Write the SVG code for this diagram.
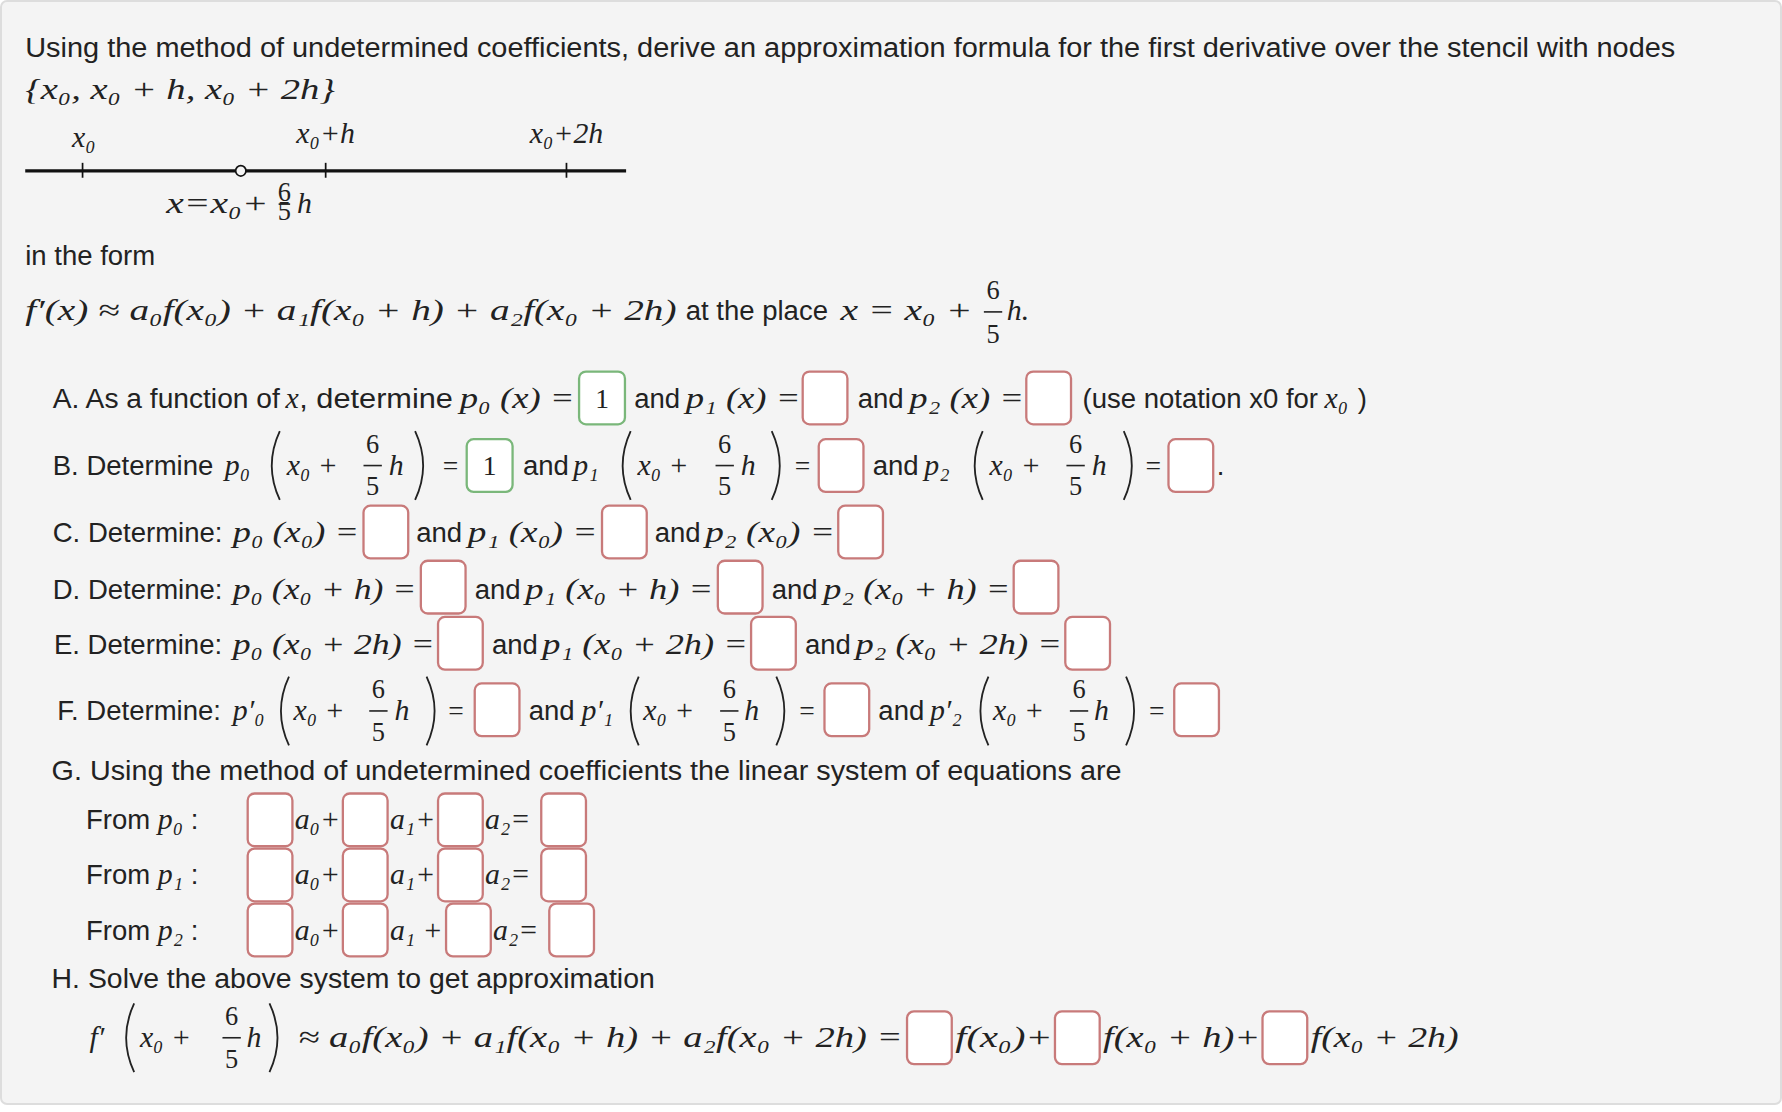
<svg xmlns="http://www.w3.org/2000/svg" width="1782" height="1112" viewBox="0 0 1782 1112">
<style>
.s{font-family:"Liberation Sans",Arial,sans-serif;font-size:24px;fill:#222}
.m{font-family:"Liberation Serif","Times New Roman",serif;font-style:italic;font-size:26px;fill:#222}
.n{font-family:"Liberation Serif","Times New Roman",serif;font-size:24px;fill:#222}
.fr{font-family:"Liberation Serif","Times New Roman",serif;font-size:23px;fill:#222;text-anchor:middle}
.bx{fill:#fff;stroke:#c87a7a;stroke-width:2}
.gx{fill:#fff;stroke:#7ab77a;stroke-width:2}
.p{fill:none;stroke:#222;stroke-width:1.6}
.bar{stroke:#222;stroke-width:1.4}
</style>
<defs>
<rect id="b" class="bx" width="39" height="46" rx="6"/>
<rect id="g" class="gx" width="40" height="46" rx="6"/>
<path id="po" class="p" d="M12 -30 Q-2 0 12 30"/>
<path id="pc" class="p" d="M0 -30 Q14 0 0 30"/>
</defs>
<rect x="1" y="1" width="1780" height="1103" fill="#f4f4f4" stroke="#ddd" stroke-width="2" rx="6"/>
<g transform="scale(1.1467)">
<g id="intro">
<text class="s" x="22" y="50" textLength="1439" lengthAdjust="spacingAndGlyphs">Using the method of undetermined coefficients, derive an approximation formula for the first derivative over the stencil with nodes</text>
<text class="m" x="22" y="86" textLength="270" lengthAdjust="spacingAndGlyphs">{x₀, x₀ + h, x₀ + 2h}</text>
</g>
<g id="numberline">
<line x1="22" y1="149" x2="546" y2="149" stroke="#111" stroke-width="3"/>
<line x1="72" y1="142" x2="72" y2="155" stroke="#111" stroke-width="1.5"/>
<line x1="284" y1="142" x2="284" y2="155" stroke="#111" stroke-width="1.5"/>
<line x1="494" y1="142" x2="494" y2="155" stroke="#111" stroke-width="1.5"/>
<circle cx="210" cy="149" r="4.5" fill="#f4f4f4" stroke="#111" stroke-width="1.5"/>
<text class="m" x="73" y="128" text-anchor="middle">x₀</text>
<text class="m" x="284" y="125" text-anchor="middle">x₀+h</text>
<text class="m" x="494" y="125" text-anchor="middle">x₀+2h</text>
<text class="m" x="145" y="186" textLength="89" lengthAdjust="spacingAndGlyphs">x=x₀+</text>
<text class="fr" x="248" y="175" font-size="14">6</text>
<line class="bar" x1="243" y1="178" x2="253" y2="178"/>
<text class="fr" x="248" y="192" font-size="14">5</text>
<text class="m" x="259" y="186">h</text>
</g>
<g id="form">
<text class="s" x="22" y="231">in the form</text>
<text class="m" x="22" y="279" textLength="568" lengthAdjust="spacingAndGlyphs">f′(x) ≈ a₀f(x₀) + a₁f(x₀ + h) + a₂f(x₀ + 2h)</text>
<text class="s" x="598" y="279">at the place</text>
<text class="m" x="733" y="279" textLength="115" lengthAdjust="spacingAndGlyphs">x = x₀ +</text>
<text class="fr" x="866" y="261">6</text><line class="bar" x1="858" y1="272" x2="874" y2="272"/><text class="fr" x="866" y="299">5</text>
<text class="m" x="878" y="279">h.</text>
</g>
<g id="partA">
<text class="s" x="46" y="356" textLength="198" lengthAdjust="spacingAndGlyphs">A. As a function of</text>
<text class="m" x="249" y="356">x</text><text class="s" x="261" y="356" textLength="134" lengthAdjust="spacingAndGlyphs">, determine</text>
<text class="m" x="401" y="356" textLength="100" lengthAdjust="spacingAndGlyphs">p₀ (x) =</text>
<use href="#g" x="505" y="324"/><text class="n" x="525" y="356" text-anchor="middle">1</text>
<text class="s" x="553" y="356">and</text>
<text class="m" x="598" y="356" textLength="100" lengthAdjust="spacingAndGlyphs">p₁ (x) =</text>
<use href="#b" x="700" y="324"/>
<text class="s" x="748" y="356">and</text>
<text class="m" x="793" y="356" textLength="100" lengthAdjust="spacingAndGlyphs">p₂ (x) =</text>
<use href="#b" x="895" y="324"/>
<text class="s" x="944" y="356">(use notation x0 for </text>
<text class="m" x="1155" y="356">x₀</text><text class="s" x="1184" y="356">)</text>
</g>
<g id="partB">
<text class="s" x="46" y="414">B. Determine</text>
<text class="m" x="196" y="414">p₀</text>
<use href="#po" x="232" y="406"/><text class="m" x="250" y="414">x₀ +</text>
<text class="fr" x="325" y="395">6</text><line class="bar" x1="317" y1="406" x2="333" y2="406"/><text class="fr" x="325" y="432">5</text>
<text class="m" x="339" y="414">h</text><use href="#pc" x="362" y="406"/>
<text class="n" x="386" y="414">=</text>
<use href="#g" x="407" y="383"/><text class="n" x="427" y="414" text-anchor="middle">1</text>
<text class="s" x="456" y="414">and</text>
<text class="m" x="500" y="414">p₁</text>
<use href="#po" x="538" y="406"/><text class="m" x="556" y="414">x₀ +</text>
<text class="fr" x="632" y="395">6</text><line class="bar" x1="624" y1="406" x2="640" y2="406"/><text class="fr" x="632" y="432">5</text>
<text class="m" x="646" y="414">h</text><use href="#pc" x="673" y="406"/>
<text class="n" x="693" y="414">=</text>
<use href="#b" x="714" y="383"/>
<text class="s" x="761" y="414">and</text>
<text class="m" x="806" y="414">p₂</text>
<use href="#po" x="845" y="406"/><text class="m" x="863" y="414">x₀ +</text>
<text class="fr" x="938" y="395">6</text><line class="bar" x1="930" y1="406" x2="946" y2="406"/><text class="fr" x="938" y="432">5</text>
<text class="m" x="952" y="414">h</text><use href="#pc" x="980" y="406"/>
<text class="n" x="999" y="414">=</text>
<use href="#b" x="1019" y="383"/>
<text class="s" x="1061" y="414">.</text>
</g>
<g id="partC">
<text class="s" x="46" y="473">C. Determine:</text>
<text class="m" x="203" y="473" textLength="110" lengthAdjust="spacingAndGlyphs">p₀ (x₀) =</text>
<use href="#b" x="317" y="441"/>
<text class="s" x="363" y="473">and</text>
<text class="m" x="408" y="473" textLength="113" lengthAdjust="spacingAndGlyphs">p₁ (x₀) =</text>
<use href="#b" x="525" y="441"/>
<text class="s" x="571" y="473">and</text>
<text class="m" x="615" y="473" textLength="113" lengthAdjust="spacingAndGlyphs">p₂ (x₀) =</text>
<use href="#b" x="731" y="441"/>
</g>
<g id="partD">
<text class="s" x="46" y="522">D. Determine:</text>
<text class="m" x="203" y="522" textLength="160" lengthAdjust="spacingAndGlyphs">p₀ (x₀ + h) =</text>
<use href="#b" x="367" y="489"/>
<text class="s" x="414" y="522">and</text>
<text class="m" x="458" y="522" textLength="164" lengthAdjust="spacingAndGlyphs">p₁ (x₀ + h) =</text>
<use href="#b" x="626" y="489"/>
<text class="s" x="673" y="522">and</text>
<text class="m" x="718" y="522" textLength="163" lengthAdjust="spacingAndGlyphs">p₂ (x₀ + h) =</text>
<use href="#b" x="884" y="489"/>
</g>
<g id="partE">
<text class="s" x="47" y="570">E. Determine:</text>
<text class="m" x="203" y="570" textLength="176" lengthAdjust="spacingAndGlyphs">p₀ (x₀ + 2h) =</text>
<use href="#b" x="382" y="538"/>
<text class="s" x="429" y="570">and</text>
<text class="m" x="473" y="570" textLength="179" lengthAdjust="spacingAndGlyphs">p₁ (x₀ + 2h) =</text>
<use href="#b" x="655" y="538"/>
<text class="s" x="702" y="570">and</text>
<text class="m" x="746" y="570" textLength="180" lengthAdjust="spacingAndGlyphs">p₂ (x₀ + 2h) =</text>
<use href="#b" x="929" y="538"/>
</g>
<g id="partF">
<text class="s" x="50" y="628">F. Determine:</text>
<text class="m" x="203" y="628">p′₀</text>
<use href="#po" x="240" y="620"/><text class="m" x="256" y="628">x₀ +</text>
<text class="fr" x="330" y="609">6</text><line class="bar" x1="322" y1="620" x2="338" y2="620"/><text class="fr" x="330" y="646">5</text>
<text class="m" x="344" y="628">h</text><use href="#pc" x="372" y="620"/>
<text class="n" x="391" y="628">=</text>
<use href="#b" x="414" y="596"/>
<text class="s" x="461" y="628">and</text>
<text class="m" x="507" y="628">p′₁</text>
<use href="#po" x="545" y="620"/><text class="m" x="561" y="628">x₀ +</text>
<text class="fr" x="636" y="609">6</text><line class="bar" x1="628" y1="620" x2="644" y2="620"/><text class="fr" x="636" y="646">5</text>
<text class="m" x="649" y="628">h</text><use href="#pc" x="677" y="620"/>
<text class="n" x="697" y="628">=</text>
<use href="#b" x="719" y="596"/>
<text class="s" x="766" y="628">and</text>
<text class="m" x="811" y="628">p′₂</text>
<use href="#po" x="850" y="620"/><text class="m" x="866" y="628">x₀ +</text>
<text class="fr" x="941" y="609">6</text><line class="bar" x1="933" y1="620" x2="949" y2="620"/><text class="fr" x="941" y="646">5</text>
<text class="m" x="954" y="628">h</text><use href="#pc" x="982" y="620"/>
<text class="n" x="1002" y="628">=</text>
<use href="#b" x="1024" y="596"/>
</g>
<g id="partG">
<text class="s" x="45" y="680" textLength="933" lengthAdjust="spacingAndGlyphs">G. Using the method of undetermined coefficients the linear system of equations are</text>
<text class="s" x="75" y="723">From <tspan class="m">p₀</tspan> :</text>
<use href="#b" x="216" y="692"/><text class="m" x="257" y="723">a₀+</text>
<use href="#b" x="299" y="692"/><text class="m" x="340" y="723">a₁+</text>
<use href="#b" x="382" y="692"/><text class="m" x="423" y="723">a₂=</text>
<use href="#b" x="472" y="692"/>
<text class="s" x="75" y="771">From <tspan class="m">p₁</tspan> :</text>
<use href="#b" x="216" y="740"/><text class="m" x="257" y="771">a₀+</text>
<use href="#b" x="299" y="740"/><text class="m" x="340" y="771">a₁+</text>
<use href="#b" x="382" y="740"/><text class="m" x="423" y="771">a₂=</text>
<use href="#b" x="472" y="740"/>
<text class="s" x="75" y="820">From <tspan class="m">p₂</tspan> :</text>
<use href="#b" x="216" y="788"/><text class="m" x="257" y="820">a₀+</text>
<use href="#b" x="299" y="788"/><text class="m" x="340" y="820">a₁ +</text>
<use href="#b" x="389" y="788"/><text class="m" x="430" y="820">a₂=</text>
<use href="#b" x="479" y="788"/>
</g>
<g id="partH">
<text class="s" x="45" y="862" textLength="526" lengthAdjust="spacingAndGlyphs">H. Solve the above system to get approximation</text>
<text class="m" x="78" y="913">f′</text>
<use href="#po" x="105" y="905"/><text class="m" x="122" y="913">x₀ +</text>
<text class="fr" x="202" y="894">6</text><line class="bar" x1="194" y1="905" x2="210" y2="905"/><text class="fr" x="202" y="931">5</text>
<text class="m" x="215" y="913">h</text><use href="#pc" x="235" y="905"/>
<text class="m" x="260" y="913" textLength="527" lengthAdjust="spacingAndGlyphs">≈ a₀f(x₀) + a₁f(x₀ + h) + a₂f(x₀ + 2h) =</text>
<use href="#b" x="791" y="882"/>
<text class="m" x="833" y="913" textLength="85" lengthAdjust="spacingAndGlyphs">f(x₀)+</text>
<use href="#b" x="920" y="882"/>
<text class="m" x="962" y="913" textLength="137" lengthAdjust="spacingAndGlyphs">f(x₀ + h)+</text>
<use href="#b" x="1101" y="882"/>
<text class="m" x="1143" y="913" textLength="129" lengthAdjust="spacingAndGlyphs">f(x₀ + 2h)</text>
</g>
</g>
</svg>
